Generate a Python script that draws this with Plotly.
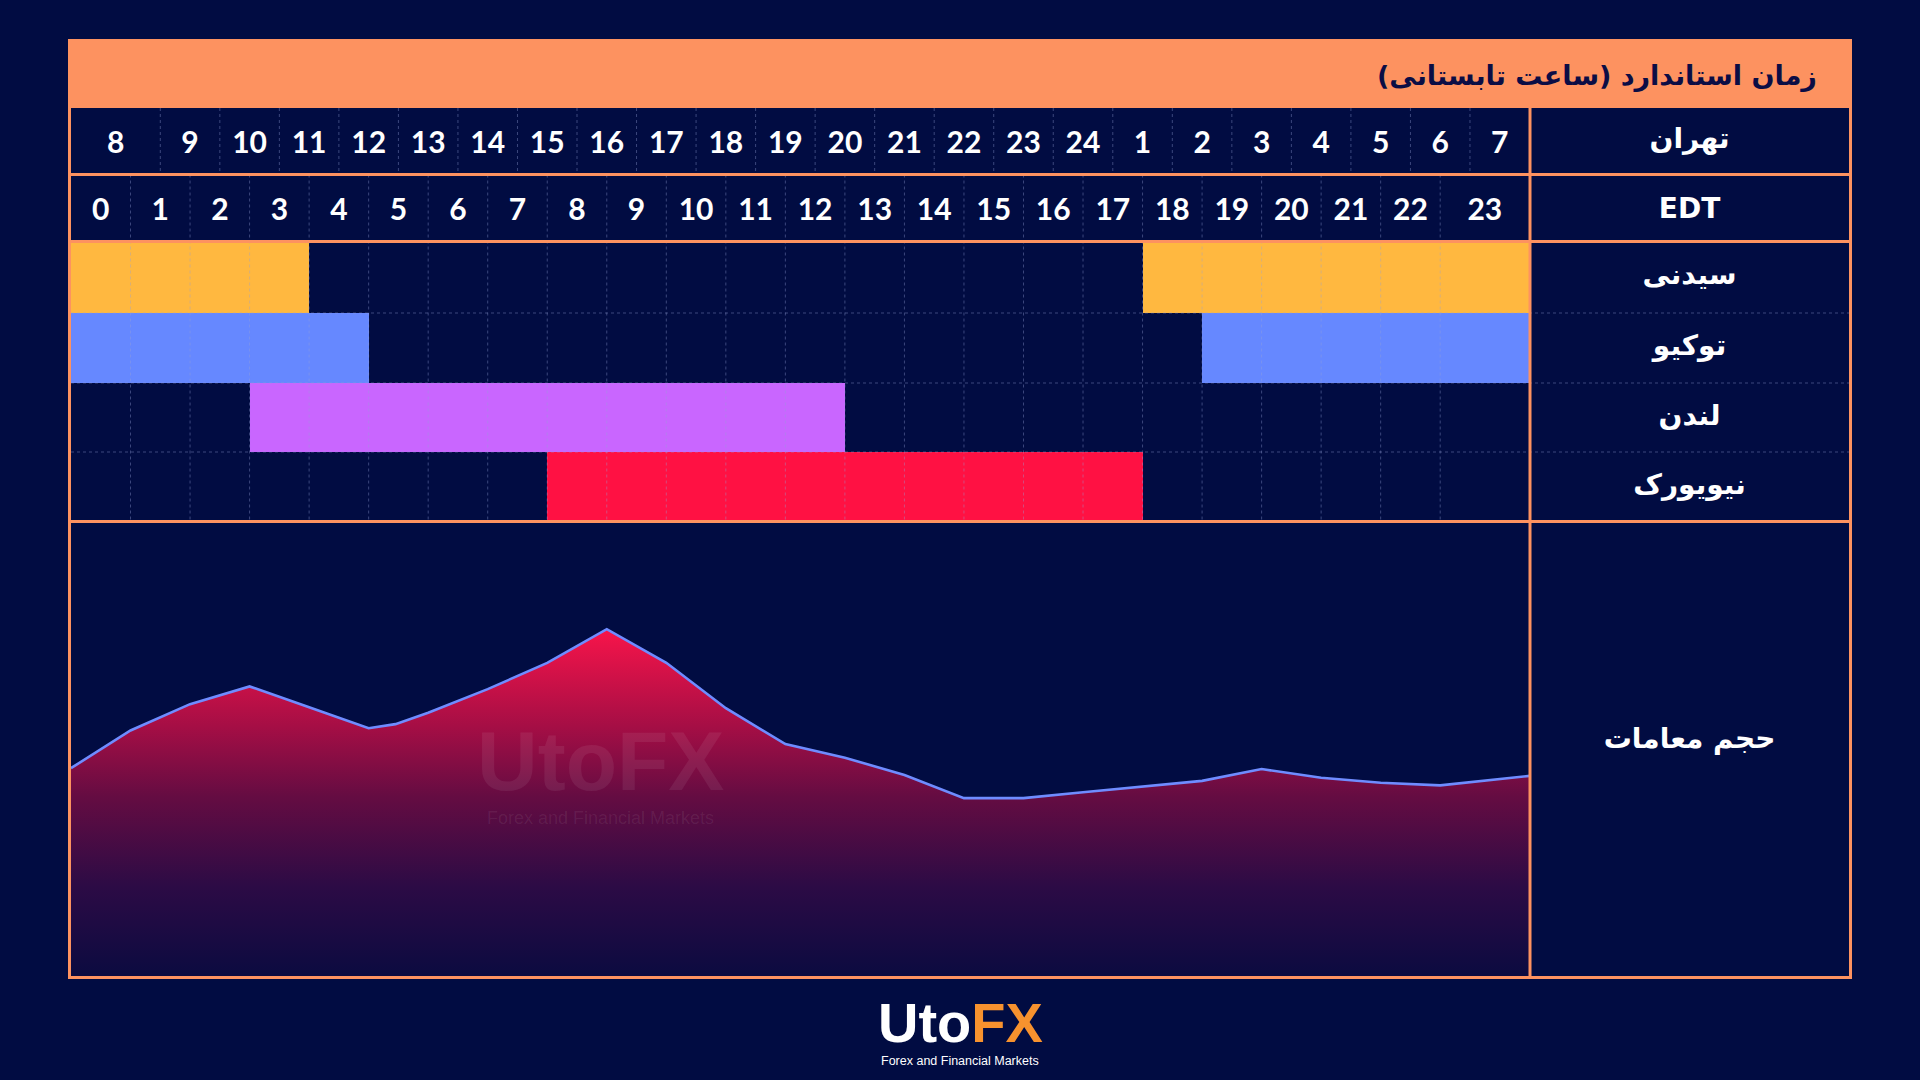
import plotly.graph_objects as go

# ---- DATA ----
edt_hours = list(range(24))
tehran_hours = [8, 9, 10, 11, 12, 13, 14, 15, 16, 17, 18, 19, 20, 21, 22, 23, 24,
                1, 2, 3, 4, 5, 6, 7]
TEHRAN_OFFSET = 7.5          # Tehran = EDT + 7:30
X_END = 24.5                 # last EDT column is stretched by half an hour

session_names = ['سیدنی', 'توکیو', 'لندن', 'نیویورک']
session_open = [18, 19, 3, 8]      # EDT hour
session_close = [4, 5, 13, 18]
session_colors = ['#FFB840', '#6688FF', '#C966FF', '#FF1143']

volume_hours = [0, 1, 2, 3, 4, 5, 5.45, 6, 7, 8, 9, 10, 11, 12, 13, 14, 15, 16,
                17, 18, 19, 20, 21, 22, 23, 24.5]
volume_level = [46.0, 54.3, 60.1, 64.0, 59.4, 54.8, 55.7, 58.2, 63.4, 69.2, 76.6,
                69.2, 59.2, 51.3, 48.3, 44.5, 39.4, 39.4, 40.7, 41.9, 43.2, 45.8,
                43.9, 42.8, 42.2, 44.3]

title_text = '\u200fزمان استاندارد (ساعت تابستانی)\u200f'
row_tehran = 'تهران'
row_edt = 'EDT'
row_volume = 'حجم معامات'

# ---- STYLE / LAYOUT CONSTANTS (pixels of a 1920x1080 canvas) ----
W, H = 1920, 1080
NAVY = '#010c42'
ORANGE = '#FD9260'
GRID = 'rgba(150,160,215,0.4)'
FA_FONT = 'DejaVu Sans'
NUM_FONT = 'Lato'
NUM_DY = 4                    # nudge digits down a little

PLOT_L, PLOT_R = 71, 1849
COL_PX = (1529.5 - PLOT_L) / X_END
X_TOTAL = (PLOT_R - PLOT_L) / COL_PX
LABEL_X = ((1530 + PLOT_R) / 2 - PLOT_L) / COL_PX

TABLE_TOP, TABLE_BOT = 39, 523
VOL_TOP, VOL_BOT = 523, 977
tehran_row = (108, 174.5)
edt_row = (174.5, 241.5)
session_edges = [241.5, 313, 383, 452, 521.5]


def px(x):
    return x / W


def py(y):
    return 1 - y / H


def mid(a, b):
    return (a + b) / 2


# column edges for the two clock rows
edt_edges = edt_hours + [X_END]
tehran_starts = [(h - TEHRAN_OFFSET) % 24 for h in tehran_hours]
tehran_edges = [0] + tehran_starts[1:] + [X_END]
edt_centers = [mid(edt_edges[i], edt_edges[i + 1]) for i in range(len(edt_hours))]
tehran_centers = [mid(tehran_edges[i], tehran_edges[i + 1]) for i in range(len(tehran_hours))]

fig = go.Figure()

# ---- SESSION BARS ----
for i, name in enumerate(session_names):
    o, c = session_open[i], session_close[i]
    if o > c:
        segs = [(o, X_END), (0, c)]
    else:
        segs = [(o, c)]
    y0, y1 = session_edges[i], session_edges[i + 1]
    fig.add_trace(go.Bar(
        orientation='h',
        base=[s[0] for s in segs],
        x=[s[1] - s[0] for s in segs],
        y=[mid(y0, y1)] * len(segs),
        width=y1 - y0,
        marker=dict(color=session_colors[i], line=dict(width=0)),
        name=name, hoverinfo='skip',
        xaxis='x', yaxis='y'
    ))

# ---- HOUR LABELS ----
num_font = dict(family=NUM_FONT, size=30, color='white', weight='bold')
fig.add_trace(go.Scatter(
    x=tehran_centers, y=[mid(*tehran_row) + NUM_DY] * len(tehran_hours),
    text=[str(h) for h in tehran_hours], mode='text',
    textfont=num_font, textposition='middle center',
    hoverinfo='skip', xaxis='x', yaxis='y'
))
fig.add_trace(go.Scatter(
    x=edt_centers, y=[mid(*edt_row) + NUM_DY] * len(edt_hours),
    text=[str(h) for h in edt_hours], mode='text',
    textfont=num_font, textposition='middle center',
    hoverinfo='skip', xaxis='x', yaxis='y'
))

# ---- ROW LABELS ----
row_labels = [row_tehran, row_edt] + session_names
row_y = [mid(*tehran_row), mid(*edt_row) + 3] + \
    [mid(session_edges[i], session_edges[i + 1]) for i in range(len(session_names))]
fig.add_trace(go.Scatter(
    x=[LABEL_X] * len(row_labels), y=row_y, text=row_labels, mode='text',
    textfont=dict(family=FA_FONT, size=28, color='white', weight='bold'),
    hoverinfo='skip', xaxis='x', yaxis='y'
))
fig.add_trace(go.Scatter(
    x=[LABEL_X], y=[52], text=[row_volume], mode='text',
    textfont=dict(family=FA_FONT, size=28, color='white', weight='bold'),
    hoverinfo='skip', xaxis='x', yaxis='y2'
))

# ---- VOLUME AREA ----
fig.add_trace(go.Scatter(
    x=volume_hours, y=volume_level, mode='lines',
    line=dict(color='#6F8CFF', width=2.6),
    fill='tozeroy',
    fillgradient=dict(
        type='vertical', start=0, stop=max(volume_level),
        colorscale=[[0, '#0b0b40'], [0.26, '#2c0b45'], [0.52, '#650c42'],
                    [0.72, '#a50e45'], [1, '#f8144a']]
    ),
    hoverinfo='skip', xaxis='x', yaxis='y2'
))

# ---- GRID & FRAME ----
shapes = []
for xv in edt_edges[1:-1]:
    shapes.append(dict(type='line', xref='x', yref='y', x0=xv, x1=xv,
                       y0=edt_row[0], y1=session_edges[-1], layer='above',
                       line=dict(color=GRID, width=1, dash='3px,3px')))
for xv in tehran_edges[1:-1]:
    shapes.append(dict(type='line', xref='x', yref='y', x0=xv, x1=xv,
                       y0=tehran_row[0], y1=tehran_row[1], layer='above',
                       line=dict(color=GRID, width=1, dash='3px,3px')))
for yv in session_edges[1:-1]:
    shapes.append(dict(type='line', xref='paper', yref='y', x0=px(PLOT_L), x1=px(PLOT_R),
                       y0=yv, y1=yv, layer='above',
                       line=dict(color=GRID, width=1, dash='3px,3px')))

# header band
shapes.append(dict(type='rect', xref='paper', yref='paper',
                   x0=px(68), x1=px(1852), y0=py(108), y1=py(39),
                   fillcolor=ORANGE, line=dict(width=0), layer='above'))
# separators
for yv in [tehran_row[1], edt_row[1], session_edges[-1]]:
    shapes.append(dict(type='line', xref='paper', yref='paper',
                       x0=px(69.5), x1=px(1850.5), y0=py(yv), y1=py(yv),
                       line=dict(color=ORANGE, width=3), layer='above'))
shapes.append(dict(type='line', xref='paper', yref='paper',
                   x0=px(1530), x1=px(1530), y0=py(108), y1=py(977.5),
                   line=dict(color=ORANGE, width=3), layer='above'))
shapes.append(dict(type='rect', xref='paper', yref='paper',
                   x0=px(69.5), x1=px(1850.5), y0=py(977.5), y1=py(40.5),
                   line=dict(color=ORANGE, width=3), layer='above'))

annotations = [
    dict(text=title_text, xref='paper', yref='paper', x=px(1819), y=py(76),
         xanchor='right', yanchor='middle', showarrow=False,
         font=dict(family=FA_FONT, size=27, color='#0b0d45', weight='bold')),
    # faint watermark inside the volume area
    dict(text='<b>UtoFX</b>', xref='x', yref='y2', x=8.9, y=47.5,
         xanchor='center', yanchor='middle', showarrow=False,
         font=dict(family='Liberation Sans', size=84, color='rgba(255,255,255,0.07)')),
    dict(text='Forex and Financial Markets', xref='x', yref='y2', x=8.9, y=35,
         xanchor='center', yanchor='middle', showarrow=False,
         font=dict(family='Liberation Sans', size=18, color='rgba(255,255,255,0.07)')),
    # logo at the bottom
    dict(text='<b>Uto</b><b><span style="color:#F7922E">FX</span></b>',
         xref='paper', yref='paper', x=0.5, y=py(1022),
         xanchor='center', yanchor='middle', showarrow=False,
         font=dict(family='Liberation Sans', size=56, color='white')),
    dict(text='Forex and Financial Markets', xref='paper', yref='paper',
         x=0.5, y=py(1061), xanchor='center', yanchor='middle', showarrow=False,
         font=dict(family='Liberation Sans', size=12.5, color='white')),
]

fig.update_layout(
    width=W, height=H,
    margin=dict(l=0, r=0, t=0, b=0),
    paper_bgcolor=NAVY, plot_bgcolor=NAVY,
    showlegend=False, barmode='overlay', bargap=0,
    xaxis=dict(domain=[px(PLOT_L), px(PLOT_R)], range=[0, X_TOTAL],
               visible=False, fixedrange=True),
    yaxis=dict(domain=[py(TABLE_BOT), py(TABLE_TOP)], range=[TABLE_BOT, TABLE_TOP],
               visible=False, fixedrange=True),
    yaxis2=dict(domain=[py(VOL_BOT), py(VOL_TOP)], range=[0, 100],
                anchor='x', visible=False, fixedrange=True),
    shapes=shapes,
    annotations=annotations,
)

# drop the browser's default page margin so the canvas sits at 0,0
page_css = ("document.body.style.margin='0';"
            "document.body.style.background='" + NAVY + "';"
            "document.body.style.overflow='hidden';")
fig.write_html("out.html", config={'displayModeBar': False}, post_script=page_css)
